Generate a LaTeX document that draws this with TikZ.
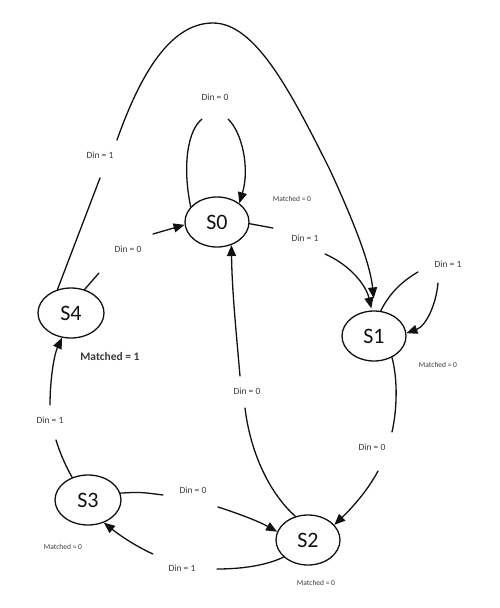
\documentclass[tikz,border=0pt]{standalone}
\usepackage{fontspec}
\setmainfont{Carlito}
\usetikzlibrary{arrows.meta,shapes.geometric}
\definecolor{FSMink}{HTML}{111111}
\definecolor{FSMlabel}{HTML}{3A3A3A}

\begin{document}
\begin{tikzpicture}[
  x=1pt,y=1pt,
  line cap=round,line join=round,
  >={Triangle[length=11pt,width=9pt]},
  state/.style={ellipse,draw=FSMink,line width=1.3pt,minimum width=64pt,
    minimum height=50pt,inner sep=0pt,font=\fontsize{22}{25}\selectfont,text=FSMink},
  wire/.style={draw=FSMink,line width=1.3pt},
  din/.style={font=\fontsize{9.5}{11}\selectfont,text=FSMlabel,inner sep=0pt},
  outlbl/.style={font=\fontsize{7.5}{9}\selectfont,text=FSMlabel,inner sep=0pt},
  outbold/.style={font=\bfseries\fontsize{11.5}{13}\selectfont,text=FSMlabel,inner sep=0pt}
]
\useasboundingbox (0,0) rectangle (499,-608);

% States
\node[state] (s0) at (217,-222) {S0};
\node[state] (s1) at (374,-336) {S1};
\node[state] (s2) at (308,-540) {S2};
\node[state,minimum width=66pt] (s3) at (88,-500) {S3};
\node[state,minimum width=66pt] (s4) at (71,-313) {S4};

% Free ends of the split connectors (gap round each label)
\coordinate (a00) at (202,-119); \coordinate (b00) at (228,-119);
\coordinate (a01) at (273,-228); \coordinate (b01) at (325,-254);
\coordinate (a41) at (100,-178); \coordinate (b41) at (117,-140);
\coordinate (a11) at (418,-272); \coordinate (b11) at (438,-283);
\coordinate (a12) at (392,-432); \coordinate (b12) at (378,-471);
\coordinate (a20) at (245,-408); \coordinate (b20) at (240,-376);
\coordinate (a32) at (163,-495); \coordinate (b32) at (218,-507);
\coordinate (a23) at (217,-569); \coordinate (b23) at (153,-554);
\coordinate (a34) at (56,-440);  \coordinate (b34) at (50,-405);
\coordinate (a40) at (99,-273);  \coordinate (b40) at (153,-234);

% S0 self loop
\draw[wire] (s0.150) .. controls (182,-165) and (188,-130) .. (a00);
\draw[wire,->] (b00) .. controls (242,-132) and (250,-168) .. (s0.40);

% S0 -> S1
\draw[wire] (s0.-3) -- (a01);
\draw[wire,->,shorten >=2pt] (b01) .. controls (350,-265) and (366,-285) .. (s1.95);

% S4 -> S1 (big arc over the top)
\draw[wire] (s4.120) -- (a41);
\draw[wire,->,shorten >=12pt] (b41) .. controls (140,-75) and (170,-23) .. (213,-23)
  .. controls (255,-23) and (290,-90) .. (330,-170)
  .. controls (352,-218) and (370,-262) .. (s1.88);

% S1 self loop
\draw[wire] (s1.75) .. controls (390,-292) and (404,-280) .. (a11);
\draw[wire,->] (b11) .. controls (436,-305) and (426,-326) .. (s1.5);

% S1 -> S2
\draw[wire] (s1.-50) .. controls (398,-380) and (397,-410) .. (a12);
\draw[wire,->] (b12) .. controls (368,-490) and (352,-508) .. (s2.30);

% S2 -> S0
\draw[wire] (s2.118) .. controls (268,-492) and (250,-450) .. (a20);
\draw[wire,->] (b20) .. controls (236,-330) and (232,-290) .. (s0.-58);

% S3 -> S2
\draw[wire] (s3.12) .. controls (140,-492) .. (a32);
\draw[wire,->] (b32) .. controls (240,-514) and (260,-522) .. (s2.165);

% S2 -> S3
\draw[wire] (s2.215) .. controls (265,-566) and (240,-569) .. (a23);
\draw[wire,->] (b23) .. controls (135,-546) and (118,-534) .. (s3.-55);

% S3 -> S4
\draw[wire] (s3.125) .. controls (64,-463) and (59,-450) .. (a34);
\draw[wire,->] (b34) .. controls (50,-380) and (54,-355) .. (s4.-110);

% S4 -> S0
\draw[wire] (s4.60) -- (a40);
\draw[wire,->] (b40) -- (s0.185);

% Transition labels
\node[din] (d00) at (215,-97) {Din = 0};
\node[din] (d01) at (305,-238) {Din = 1};
\node[din] (d41) at (100,-155) {Din = 1};
\node[din] (d40) at (128,-249) {Din = 0};
\node[din] (d11) at (448,-264) {Din = 1};
\node[din] (d20) at (247,-391) {Din = 0};
\node[din] (d12) at (372,-447) {Din = 0};
\node[din] (d34) at (50,-420) {Din = 1};
\node[din] (d32) at (193,-490) {Din = 0};
\node[din] (d23) at (182,-568) {Din = 1};

% Outputs
\node[outlbl] (m0) at (292,-199) {Matched = 0};
\node[outlbl] (m1) at (438,-365) {Matched = 0};
\node[outlbl] (m2) at (316,-583) {Matched = 0};
\node[outlbl] (m3) at (63,-547) {Matched = 0};
\node[outbold] (m4) at (110,-357) {Matched = 1};

\end{tikzpicture}
\end{document}
